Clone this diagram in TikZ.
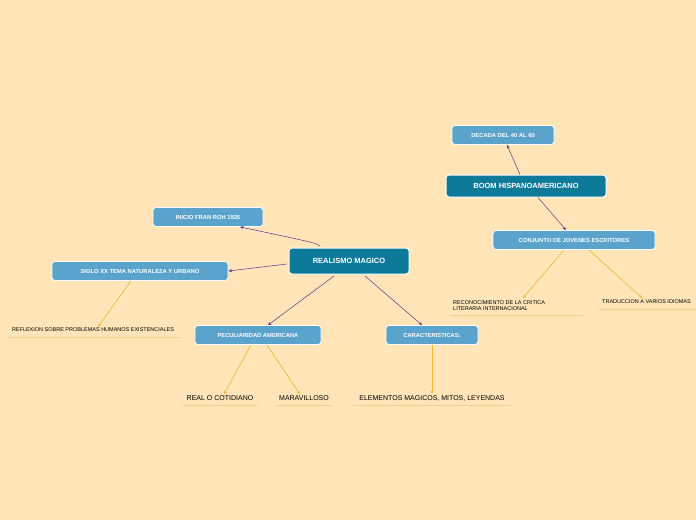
\documentclass[tikz,border=0pt]{standalone}
\usepackage{fontspec}
\setmainfont{Liberation Sans}
\usetikzlibrary{arrows.meta}
\definecolor{bg}{HTML}{FFE5B8}
\definecolor{mainc}{HTML}{0E7A99}
\definecolor{subc}{HTML}{5AA3CC}
\definecolor{purp}{HTML}{6A2C8C}
\definecolor{orng}{HTML}{F5B82E}
\definecolor{ul}{HTML}{F5D28A}
\tikzset{x=1pt,y=-1pt,
 mainbox/.style={draw=white,line width=1pt,fill=mainc,rounded corners=3pt,text=white,font=\fontsize{7.5}{8}\selectfont\bfseries,minimum height=22pt,inner xsep=8pt},
 subbox/.style={draw=white,line width=0.8pt,fill=subc,rounded corners=3pt,text=white,font=\fontsize{5.8}{7}\selectfont\bfseries,minimum height=19pt,inner xsep=7pt},
 leaf/.style={font=\fontsize{5.5}{6}\selectfont,inner sep=1pt},
 leafb/.style={font=\fontsize{7}{8}\selectfont,inner sep=1pt},
 pl/.style={draw=purp,line width=0.5pt,-{Stealth[length=3.5pt,width=3pt]}},
 ol/.style={draw=orng,line width=0.6pt,-{Stealth[length=3.5pt,width=3pt]}},
 ull/.style={draw=ul,line width=0.6pt}}
\begin{document}
\begin{tikzpicture}
\fill[bg] (0,0) rectangle (696,520);
\useasboundingbox (0,0) rectangle (696,520);
\node[mainbox,minimum height=26pt,minimum width=120pt] (rm) at (349,261) {REALISMO MAGICO};
\node[mainbox,minimum width=160pt] (boom) at (526,186) {BOOM HISPANOAMERICANO};
\node[subbox,minimum width=102pt] (dec) at (503,135) {DECADA DEL 40 AL 60};
\node[subbox,minimum width=162pt] (conj) at (574,240) {CONJUNTO DE JOVENES ESCRITORES};
\node[subbox,minimum width=110pt] (ini) at (208,217) {INICIO FRAN ROH 1925};
\node[subbox,minimum width=176pt] (sig) at (140,271) {SIGLO XX TEMA NATURALEZA Y URBANO};
\node[subbox,minimum width=126pt] (pec) at (258,335) {PECULIARIDAD AMERICANA};
\node[subbox,minimum width=92pt] (car) at (432,335) {CARACTERISTICAS:};
\node[leaf] (refl) at (93,330) {REFLEXION SOBRE PROBLEMAS HUMANOS EXISTENCIALES};
\draw[ull] (7,337) -- (180,337);
\node[leafb] (real) at (220,398) {REAL O COTIDIANO};
\draw[ull] (182,405) -- (258,405);
\node[leafb] (mar) at (304,398) {MARAVILLOSO};
\draw[ull] (276,405) -- (333,405);
\node[leafb] (elem) at (432,398) {ELEMENTOS MAGICOS, MITOS, LEYENDAS};
\draw[ull] (353,405) -- (511,405);
\node[leaf,align=left,anchor=west] (rec) at (452,306) {RECONOCIMIENTO DE LA CRITICA\\LITERARIA INTERNACIONAL};
\draw[ull] (450,315) -- (583,315);
\node[leaf,anchor=west] (trad) at (601,302) {TRADUCCION A VARIOS IDIOMAS};
\draw[ull] (598,309) -- (696,309);
\coordinate (c1) at (320,246); \coordinate (c2) at (287,264);
\coordinate (c3) at (334,276); \coordinate (c4) at (365,276);
\draw[pl] (c1) .. controls (316,243) .. (ini.south east -| 240,0) ;
\draw[pl] (c2) -- (sig.east);
\draw[pl] (c3) -- (pec.north east -| 268,0);
\draw[pl] (c4) -- (car.north east -| 422,0);
\draw[pl] (boom.north -| 520,0) -- (dec.south -| 507,0);
\draw[pl] (boom.south -| 538,0) -- (conj.north -| 566,0);
\draw[ol] (sig.south -| 131,0) -- (refl.north -| 98,0);
\draw[ol] (pec.south -| 251,0) -- (real.north -| 224,0);
\draw[ol] (pec.south -| 267,0) -- (mar.north -| 300,0);
\draw[ol] (car.south) -- (elem.north);
\draw[ol] (conj.south -| 564,0) -- (523,298);
\draw[ol] (conj.south -| 589,0) -- (642,298);
\end{tikzpicture}
\end{document}
